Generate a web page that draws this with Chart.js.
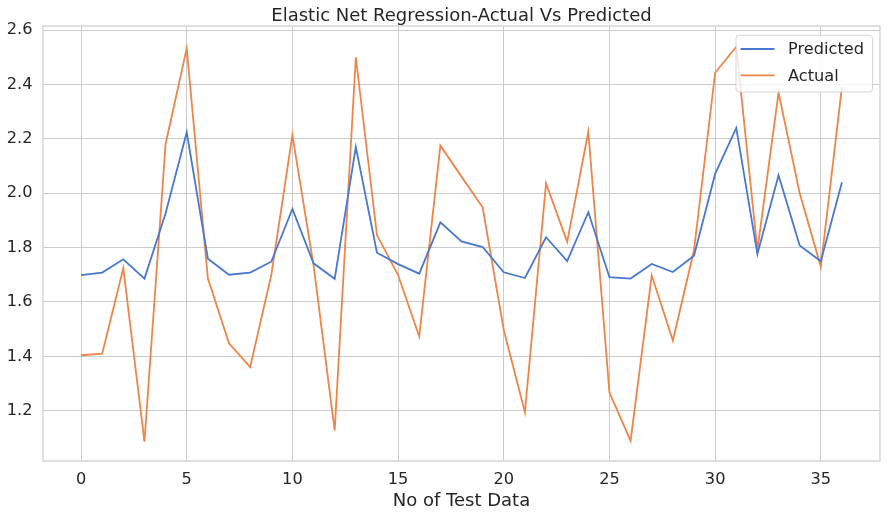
<!DOCTYPE html>
<html>
<head>
<meta charset="utf-8">
<script src="https://cdn.jsdelivr.net/npm/chart.js"></script>
<style>
  html, body { margin: 0; padding: 0; background: #fff; }
  canvas { display: block; }
</style>
</head>
<body>
<canvas id="chart" width="887" height="518"></canvas>
<script>
// data
const testIndex = [0, 1, 2, 3, 4, 5, 6, 7, 8, 9, 10, 11, 12, 13, 14, 15, 16, 17, 18,
    19, 20, 21, 22, 23, 24, 25, 26, 27, 28, 29, 30, 31, 32, 33, 34, 35, 36];
const predicted = [1.699, 1.708, 1.757, 1.686, 1.926, 2.224, 1.759, 1.700, 1.708, 1.748,
    1.942, 1.742, 1.685, 2.170, 1.781, 1.739, 1.704, 1.893, 1.823, 1.802,
    1.709, 1.688, 1.838, 1.750, 1.930, 1.691, 1.686, 1.740, 1.710, 1.770,
    2.071, 2.240, 1.776, 2.066, 1.808, 1.750, 2.040];
const actual = [1.404, 1.410, 1.724, 1.086, 2.181, 2.533, 1.687, 1.448, 1.360, 1.699,
    2.214, 1.735, 1.127, 2.500, 1.846, 1.699, 1.473, 2.175, 2.061, 1.948,
    1.497, 1.194, 2.036, 1.821, 2.226, 1.267, 1.089, 1.697, 1.458, 1.790,
    2.443, 2.539, 1.791, 2.370, 2.000, 1.730, 2.392];
const xTicks = [0, 5, 10, 15, 20, 25, 30, 35];
const yTicks = [1.2, 1.4, 1.6, 1.8, 2.0, 2.2, 2.4, 2.6];

const textColor = '#262626';
const gridColor = '#cccccc';
const fontFamily = '"DejaVu Sans", sans-serif';

// frame round the plot area, like the matplotlib spines
const framePlugin = {
    id: 'frame',
    beforeDatasetsDraw(chart) {
        const { ctx, chartArea } = chart;
        ctx.save();
        ctx.strokeStyle = gridColor;
        ctx.lineWidth = 1.2;
        ctx.strokeRect(chartArea.left, chartArea.top,
            chartArea.right - chartArea.left, chartArea.bottom - chartArea.top);
        ctx.restore();
    }
};

// legend box in the upper right corner, drawn over the lines
const boxLegendPlugin = {
    id: 'boxLegend',
    afterDatasetsDraw(chart) {
        const { ctx, chartArea } = chart;
        const x = chartArea.right - 144, y = chartArea.top + 9.3;
        const w = 136.5, h = 56.7;
        ctx.save();
        ctx.beginPath();
        ctx.roundRect(x, y, w, h, 3);
        ctx.fillStyle = 'rgba(255,255,255,0.8)';
        ctx.fill();
        ctx.strokeStyle = 'rgba(204,204,204,0.8)';
        ctx.lineWidth = 1;
        ctx.stroke();

        ctx.font = '16.2px ' + fontFamily;
        ctx.textBaseline = 'middle';
        chart.data.datasets.forEach(function(ds, i) {
            const ly = y + 13.7 + i * 26.3;
            ctx.strokeStyle = ds.borderColor;
            ctx.lineWidth = 1.8;
            ctx.beginPath();
            ctx.moveTo(x + 4.5, ly);
            ctx.lineTo(x + 38.5, ly);
            ctx.stroke();
            ctx.fillStyle = textColor;
            ctx.fillText(ds.label, x + 52, ly + 1);
        });
        ctx.restore();
    }
};

new Chart(document.getElementById('chart'), {
    type: 'line',
    data: {
        datasets: [{
            label: 'Predicted',
            data: testIndex.map((x, i) => ({ x: x, y: predicted[i] })),
            borderColor: '#4878d0',
            backgroundColor: '#4878d0',
            borderWidth: 1.8,
            pointRadius: 0,
            tension: 0
        }, {
            label: 'Actual',
            data: testIndex.map((x, i) => ({ x: x, y: actual[i] })),
            borderColor: '#ee854a',
            backgroundColor: '#ee854a',
            borderWidth: 1.8,
            pointRadius: 0,
            tension: 0
        }]
    },
    options: {
        responsive: false,
        animation: false,
        devicePixelRatio: 1,
        layout: {
            padding: { left: 0, right: 7, top: 0, bottom: 0 }
        },
        plugins: {
            legend: { display: false },
            tooltip: { enabled: false },
            title: {
                display: true,
                text: 'Elastic Net Regression-Actual Vs Predicted',
                fullSize: false,
                color: textColor,
                font: { family: fontFamily, size: 18, weight: 'normal' },
                padding: { top: 5.5, bottom: -1.1 }
            }
        },
        scales: {
            x: {
                type: 'linear',
                min: -1.8,
                max: 37.8,
                afterBuildTicks(axis) {
                    axis.ticks = xTicks.map(v => ({ value: v }));
                },
                afterFit(axis) {
                    axis.height = 57;
                },
                grid: { color: gridColor, lineWidth: 1, drawTicks: false },
                border: { display: false },
                ticks: {
                    color: textColor,
                    padding: 9,
                    font: { family: fontFamily, size: 16.2 },
                    maxRotation: 0
                },
                title: {
                    display: true,
                    text: 'No of Test Data',
                    color: textColor,
                    font: { family: fontFamily, size: 18 },
                    padding: { top: 0, bottom: 6 }
                }
            },
            y: {
                min: 1.015,
                max: 2.615,
                afterBuildTicks(axis) {
                    axis.ticks = yTicks.map(v => ({ value: v }));
                },
                afterFit(axis) {
                    axis.width = 43;
                },
                grid: { color: gridColor, lineWidth: 1, drawTicks: false },
                border: { display: false },
                ticks: {
                    color: textColor,
                    padding: 10.5,
                    font: { family: fontFamily, size: 16.2 },
                    callback: v => v.toFixed(1)
                }
            }
        }
    },
    plugins: [framePlugin, boxLegendPlugin]
});
</script>
</body>
</html>
